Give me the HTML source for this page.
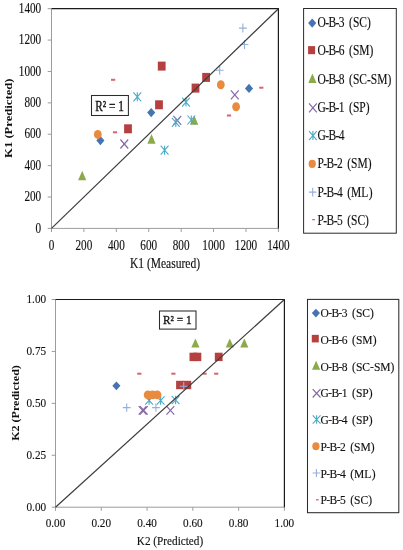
<!DOCTYPE html>
<html lang="en">
<head>
<meta charset="utf-8">
<title>K1 and K2 measured vs predicted</title>
<style>
html,body{margin:0;padding:0;background:#fff;}
body{width:403px;height:550px;overflow:hidden;}
svg{display:block;font-family:'Liberation Serif', 'DejaVu Serif', serif;}
</style>
</head>
<body>
<svg width="403" height="550" viewBox="0 0 403 550">
<rect width="403" height="550" fill="#ffffff"/>
<path d="M51.5 8.7L51.5 228.4L278.4 228.4" stroke="#9c9c9c" stroke-width="1" fill="none"/>
<path d="M51.50 228.4L51.50 232.0" stroke="#9c9c9c" stroke-width="1"/>
<text transform="translate(51.50,249.80) scale(0.935,1.14)" text-anchor="middle" font-size="12" font-weight="normal" fill="#111" stroke="#111" stroke-width="0.12">0</text>
<path d="M83.91 228.4L83.91 232.0" stroke="#9c9c9c" stroke-width="1"/>
<text transform="translate(83.91,249.80) scale(0.935,1.14)" text-anchor="middle" font-size="12" font-weight="normal" fill="#111" stroke="#111" stroke-width="0.12">200</text>
<path d="M116.33 228.4L116.33 232.0" stroke="#9c9c9c" stroke-width="1"/>
<text transform="translate(116.33,249.80) scale(0.935,1.14)" text-anchor="middle" font-size="12" font-weight="normal" fill="#111" stroke="#111" stroke-width="0.12">400</text>
<path d="M148.74 228.4L148.74 232.0" stroke="#9c9c9c" stroke-width="1"/>
<text transform="translate(148.74,249.80) scale(0.935,1.14)" text-anchor="middle" font-size="12" font-weight="normal" fill="#111" stroke="#111" stroke-width="0.12">600</text>
<path d="M181.16 228.4L181.16 232.0" stroke="#9c9c9c" stroke-width="1"/>
<text transform="translate(181.16,249.80) scale(0.935,1.14)" text-anchor="middle" font-size="12" font-weight="normal" fill="#111" stroke="#111" stroke-width="0.12">800</text>
<path d="M213.57 228.4L213.57 232.0" stroke="#9c9c9c" stroke-width="1"/>
<text transform="translate(213.57,249.80) scale(0.935,1.14)" text-anchor="middle" font-size="12" font-weight="normal" fill="#111" stroke="#111" stroke-width="0.12">1000</text>
<path d="M245.99 228.4L245.99 232.0" stroke="#9c9c9c" stroke-width="1"/>
<text transform="translate(245.99,249.80) scale(0.935,1.14)" text-anchor="middle" font-size="12" font-weight="normal" fill="#111" stroke="#111" stroke-width="0.12">1200</text>
<path d="M278.40 228.4L278.40 232.0" stroke="#9c9c9c" stroke-width="1"/>
<text transform="translate(278.40,249.80) scale(0.935,1.14)" text-anchor="middle" font-size="12" font-weight="normal" fill="#111" stroke="#111" stroke-width="0.12">1400</text>
<path d="M47.70 228.40L51.5 228.40" stroke="#9c9c9c" stroke-width="1"/>
<text transform="translate(41.20,232.60) scale(0.935,1.14)" text-anchor="end" font-size="12" font-weight="normal" fill="#111" stroke="#111" stroke-width="0.12">0</text>
<path d="M47.70 197.01L51.5 197.01" stroke="#9c9c9c" stroke-width="1"/>
<text transform="translate(41.20,201.21) scale(0.935,1.14)" text-anchor="end" font-size="12" font-weight="normal" fill="#111" stroke="#111" stroke-width="0.12">200</text>
<path d="M47.70 165.63L51.5 165.63" stroke="#9c9c9c" stroke-width="1"/>
<text transform="translate(41.20,169.83) scale(0.935,1.14)" text-anchor="end" font-size="12" font-weight="normal" fill="#111" stroke="#111" stroke-width="0.12">400</text>
<path d="M47.70 134.24L51.5 134.24" stroke="#9c9c9c" stroke-width="1"/>
<text transform="translate(41.20,138.44) scale(0.935,1.14)" text-anchor="end" font-size="12" font-weight="normal" fill="#111" stroke="#111" stroke-width="0.12">600</text>
<path d="M47.70 102.86L51.5 102.86" stroke="#9c9c9c" stroke-width="1"/>
<text transform="translate(41.20,107.06) scale(0.935,1.14)" text-anchor="end" font-size="12" font-weight="normal" fill="#111" stroke="#111" stroke-width="0.12">800</text>
<path d="M47.70 71.47L51.5 71.47" stroke="#9c9c9c" stroke-width="1"/>
<text transform="translate(41.20,75.67) scale(0.935,1.14)" text-anchor="end" font-size="12" font-weight="normal" fill="#111" stroke="#111" stroke-width="0.12">1000</text>
<path d="M47.70 40.09L51.5 40.09" stroke="#9c9c9c" stroke-width="1"/>
<text transform="translate(41.20,44.29) scale(0.935,1.14)" text-anchor="end" font-size="12" font-weight="normal" fill="#111" stroke="#111" stroke-width="0.12">1200</text>
<path d="M47.70 8.70L51.5 8.70" stroke="#9c9c9c" stroke-width="1"/>
<text transform="translate(41.20,12.90) scale(0.935,1.14)" text-anchor="end" font-size="12" font-weight="normal" fill="#111" stroke="#111" stroke-width="0.12">1400</text>
<path d="M51.5 8.7L278.4 8.7L278.4 228.4" stroke="#1a1a1a" stroke-width="1.2" fill="none"/>
<text transform="translate(165.00,268.20) scale(0.96,1.14)" text-anchor="middle" font-size="12" font-weight="normal" fill="#111" stroke="#111" stroke-width="0.12">K1 (Measured)</text>
<text transform="translate(12.30,118.20) scale(0.92,1.054) rotate(-90)" text-anchor="middle" font-size="12" font-weight="bold" fill="#111" stroke="#111" stroke-width="0">K1 (Predicted)</text>
<rect x="91.5" y="95.5" width="36.9" height="20.0" fill="#fff" stroke="#2b2b2b" stroke-width="1.05"/>
<text transform="translate(109.60,110.90) scale(0.945,1.14)" text-anchor="middle" font-size="12" font-weight="normal" fill="#111" stroke="#111" stroke-width="0.3">R² = 1</text>
<path d="M100.40 135.88L104.46 140.60L100.40 145.32L96.34 140.60Z" fill="#4573B3"/>
<path d="M151.20 107.88L155.26 112.60L151.20 117.32L147.14 112.60Z" fill="#4573B3"/>
<path d="M249.00 83.68L253.06 88.40L249.00 93.12L244.94 88.40Z" fill="#4573B3"/>
<rect x="157.80" y="61.60" width="7.80" height="9.00" fill="#B5403F"/>
<rect x="155.10" y="100.30" width="7.80" height="9.00" fill="#B5403F"/>
<rect x="124.10" y="124.30" width="7.80" height="9.00" fill="#B5403F"/>
<rect x="202.20" y="72.90" width="7.80" height="9.00" fill="#B5403F"/>
<rect x="191.60" y="83.60" width="7.80" height="9.00" fill="#B5403F"/>
<path d="M82.20 170.70L86.30 180.30L78.10 180.30Z" fill="#8DAA4B"/>
<path d="M151.50 134.10L155.60 143.70L147.40 143.70Z" fill="#8DAA4B"/>
<path d="M194.20 115.20L198.30 124.80L190.10 124.80Z" fill="#8DAA4B"/>
<path d="M120.40 139.50L128.20 148.50M128.20 139.50L120.40 148.50" stroke="#8568A8" stroke-width="1.2" fill="none"/>
<path d="M173.40 115.80L181.20 124.80M181.20 115.80L173.40 124.80" stroke="#8568A8" stroke-width="1.2" fill="none"/>
<path d="M230.90 90.30L238.70 99.30M238.70 90.30L230.90 99.30" stroke="#8568A8" stroke-width="1.2" fill="none"/>
<path d="M133.40 92.30L141.20 101.30M141.20 92.30L133.40 101.30M137.30 92.30L137.30 101.30" stroke="#4BAAC5" stroke-width="1.1" fill="none"/>
<path d="M160.70 145.70L168.50 154.70M168.50 145.70L160.70 154.70M164.60 145.70L164.60 154.70" stroke="#4BAAC5" stroke-width="1.1" fill="none"/>
<path d="M182.10 97.60L189.90 106.60M189.90 97.60L182.10 106.60M186.00 97.60L186.00 106.60" stroke="#4BAAC5" stroke-width="1.1" fill="none"/>
<path d="M171.90 117.90L179.70 126.90M179.70 117.90L171.90 126.90M175.80 117.90L175.80 126.90" stroke="#4BAAC5" stroke-width="1.1" fill="none"/>
<path d="M187.40 115.50L195.20 124.50M195.20 115.50L187.40 124.50M191.30 115.50L191.30 124.50" stroke="#4BAAC5" stroke-width="1.1" fill="none"/>
<ellipse cx="97.80" cy="134.40" rx="3.90" ry="4.50" fill="#E88B3E"/>
<ellipse cx="220.80" cy="84.80" rx="3.90" ry="4.50" fill="#E88B3E"/>
<ellipse cx="236.10" cy="106.80" rx="3.90" ry="4.50" fill="#E88B3E"/>
<path d="M239.00 28.10L246.80 28.10M242.90 23.60L242.90 32.60" stroke="#94B0DB" stroke-width="1.1" fill="none"/>
<path d="M240.60 44.50L248.40 44.50M244.50 40.00L244.50 49.00" stroke="#94B0DB" stroke-width="1.1" fill="none"/>
<path d="M215.80 70.20L223.60 70.20M219.70 65.70L219.70 74.70" stroke="#94B0DB" stroke-width="1.1" fill="none"/>
<rect x="111.00" y="78.80" width="4.20" height="2.00" fill="#D8646E"/>
<rect x="112.90" y="131.30" width="4.20" height="2.00" fill="#D8646E"/>
<rect x="259.20" y="86.70" width="4.20" height="2.00" fill="#D8646E"/>
<rect x="226.90" y="114.50" width="4.20" height="2.00" fill="#D8646E"/>
<path d="M51.5 228.4L278.4 8.7" stroke="#3c3c3c" stroke-width="1.2" fill="none"/>
<rect x="303.6" y="8.5" width="92.7" height="224.7" fill="#fff" stroke="#2b2b2b" stroke-width="1.0"/>
<path d="M312.20 18.38L316.26 23.10L312.20 27.83L308.14 23.10Z" fill="#4573B3"/>
<text transform="translate(317.50,27.20) scale(0.96,1.14)" text-anchor="start" font-size="12" font-weight="normal" fill="#111" stroke="#111" stroke-width="0.12"><tspan letter-spacing="-0.6">O-B-3</tspan><tspan dx="2.3"> (SC)</tspan></text>
<rect x="308.09" y="46.10" width="7.02" height="8.10" fill="#B5403F"/>
<text transform="translate(317.50,55.45) scale(0.96,1.14)" text-anchor="start" font-size="12" font-weight="normal" fill="#111" stroke="#111" stroke-width="0.12"><tspan letter-spacing="-0.6">O-B-6</tspan><tspan dx="2.3"> (SM)</tspan></text>
<path d="M312.40 73.45L316.50 83.05L308.30 83.05Z" fill="#8DAA4B"/>
<text transform="translate(317.50,83.70) scale(0.96,1.14)" text-anchor="start" font-size="12" font-weight="normal" fill="#111" stroke="#111" stroke-width="0.12"><tspan letter-spacing="-0.6">O-B-8</tspan><tspan dx="2.3"> (SC-SM)</tspan></text>
<path d="M309.00 103.35L316.80 112.35M316.80 103.35L309.00 112.35" stroke="#8568A8" stroke-width="1.2" fill="none"/>
<text transform="translate(317.50,111.95) scale(0.96,1.14)" text-anchor="start" font-size="12" font-weight="normal" fill="#111" stroke="#111" stroke-width="0.12"><tspan letter-spacing="-0.6">G-B-1</tspan><tspan dx="2.3"> (SP)</tspan></text>
<path d="M309.00 131.10L316.80 140.10M316.80 131.10L309.00 140.10M312.90 131.10L312.90 140.10" stroke="#4BAAC5" stroke-width="1.1" fill="none"/>
<text transform="translate(317.50,140.20) scale(0.96,1.14)" text-anchor="start" font-size="12" font-weight="normal" fill="#111" stroke="#111" stroke-width="0.12"><tspan letter-spacing="-0.6">G-B-4</tspan></text>
<ellipse cx="312.20" cy="163.85" rx="3.63" ry="4.19" fill="#E88B3E"/>
<text transform="translate(317.50,168.45) scale(0.96,1.14)" text-anchor="start" font-size="12" font-weight="normal" fill="#111" stroke="#111" stroke-width="0.12"><tspan letter-spacing="-0.6">P-B-2</tspan><tspan dx="2.3"> (SM)</tspan></text>
<path d="M308.92 192.10L316.48 192.10M312.70 187.73L312.70 196.47" stroke="#94B0DB" stroke-width="1.1" fill="none"/>
<text transform="translate(317.50,196.70) scale(0.96,1.14)" text-anchor="start" font-size="12" font-weight="normal" fill="#111" stroke="#111" stroke-width="0.12"><tspan letter-spacing="-0.6">P-B-4</tspan><tspan dx="2.3"> (ML<tspan dx="0.5">)</tspan></tspan></text>
<rect x="312.23" y="219.00" width="2.73" height="1.30" fill="#D8646E"/>
<text transform="translate(317.50,224.95) scale(0.96,1.14)" text-anchor="start" font-size="12" font-weight="normal" fill="#111" stroke="#111" stroke-width="0.12"><tspan letter-spacing="-0.6">P-B-5</tspan><tspan dx="2.3"> (SC)</tspan></text>
<path d="M55.5 299.5L55.5 507.2L284.4 507.2" stroke="#9c9c9c" stroke-width="1" fill="none"/>
<path d="M55.50 507.2L55.50 510.8" stroke="#9c9c9c" stroke-width="1"/>
<text transform="translate(55.50,527.20) scale(0.935,1.09)" text-anchor="middle" font-size="12" font-weight="normal" fill="#111" stroke="#111" stroke-width="0.12">0.00</text>
<path d="M101.28 507.2L101.28 510.8" stroke="#9c9c9c" stroke-width="1"/>
<text transform="translate(101.28,527.20) scale(0.935,1.09)" text-anchor="middle" font-size="12" font-weight="normal" fill="#111" stroke="#111" stroke-width="0.12">0.20</text>
<path d="M147.06 507.2L147.06 510.8" stroke="#9c9c9c" stroke-width="1"/>
<text transform="translate(147.06,527.20) scale(0.935,1.09)" text-anchor="middle" font-size="12" font-weight="normal" fill="#111" stroke="#111" stroke-width="0.12">0.40</text>
<path d="M192.84 507.2L192.84 510.8" stroke="#9c9c9c" stroke-width="1"/>
<text transform="translate(192.84,527.20) scale(0.935,1.09)" text-anchor="middle" font-size="12" font-weight="normal" fill="#111" stroke="#111" stroke-width="0.12">0.60</text>
<path d="M238.62 507.2L238.62 510.8" stroke="#9c9c9c" stroke-width="1"/>
<text transform="translate(238.62,527.20) scale(0.935,1.09)" text-anchor="middle" font-size="12" font-weight="normal" fill="#111" stroke="#111" stroke-width="0.12">0.80</text>
<path d="M284.40 507.2L284.40 510.8" stroke="#9c9c9c" stroke-width="1"/>
<text transform="translate(284.40,527.20) scale(0.935,1.09)" text-anchor="middle" font-size="12" font-weight="normal" fill="#111" stroke="#111" stroke-width="0.12">1.00</text>
<path d="M51.70 507.20L55.5 507.20" stroke="#9c9c9c" stroke-width="1"/>
<text transform="translate(46.10,510.90) scale(0.935,1.09)" text-anchor="end" font-size="12" font-weight="normal" fill="#111" stroke="#111" stroke-width="0.12">0.00</text>
<path d="M51.70 455.27L55.5 455.27" stroke="#9c9c9c" stroke-width="1"/>
<text transform="translate(46.10,458.97) scale(0.935,1.09)" text-anchor="end" font-size="12" font-weight="normal" fill="#111" stroke="#111" stroke-width="0.12">0.25</text>
<path d="M51.70 403.35L55.5 403.35" stroke="#9c9c9c" stroke-width="1"/>
<text transform="translate(46.10,407.05) scale(0.935,1.09)" text-anchor="end" font-size="12" font-weight="normal" fill="#111" stroke="#111" stroke-width="0.12">0.50</text>
<path d="M51.70 351.43L55.5 351.43" stroke="#9c9c9c" stroke-width="1"/>
<text transform="translate(46.10,355.12) scale(0.935,1.09)" text-anchor="end" font-size="12" font-weight="normal" fill="#111" stroke="#111" stroke-width="0.12">0.75</text>
<path d="M51.70 299.50L55.5 299.50" stroke="#9c9c9c" stroke-width="1"/>
<text transform="translate(46.10,303.20) scale(0.935,1.09)" text-anchor="end" font-size="12" font-weight="normal" fill="#111" stroke="#111" stroke-width="0.12">1.00</text>
<path d="M55.5 299.5L284.4 299.5L284.4 507.2" stroke="#1a1a1a" stroke-width="1.2" fill="none"/>
<text transform="translate(170.00,545.40) scale(0.935,1.09)" text-anchor="middle" font-size="12" font-weight="normal" fill="#111" stroke="#111" stroke-width="0.12">K2 (Predicted)</text>
<text transform="translate(19.30,403.00) scale(0.92,1.005) rotate(-90)" text-anchor="middle" font-size="12" font-weight="bold" fill="#111" stroke="#111" stroke-width="0">K2 (Predicted)</text>
<rect x="159.5" y="311.0" width="36.5" height="18.1" fill="#fff" stroke="#2b2b2b" stroke-width="1.05"/>
<text transform="translate(177.40,324.30) scale(0.945,1.09)" text-anchor="middle" font-size="12" font-weight="normal" fill="#111" stroke="#111" stroke-width="0.3">R² = 1</text>
<path d="M116.40 381.39L120.46 385.80L116.40 390.21L112.34 385.80Z" fill="#4573B3"/>
<rect x="189.50" y="352.70" width="7.80" height="8.40" fill="#B5403F"/>
<rect x="193.50" y="352.70" width="7.80" height="8.40" fill="#B5403F"/>
<rect x="214.80" y="352.70" width="7.80" height="8.40" fill="#B5403F"/>
<rect x="176.10" y="380.80" width="7.80" height="8.40" fill="#B5403F"/>
<rect x="183.40" y="380.80" width="7.80" height="8.40" fill="#B5403F"/>
<path d="M195.40 338.40L199.50 347.40L191.30 347.40Z" fill="#8DAA4B"/>
<path d="M229.80 338.40L233.90 347.40L225.70 347.40Z" fill="#8DAA4B"/>
<path d="M244.30 338.40L248.40 347.40L240.20 347.40Z" fill="#8DAA4B"/>
<path d="M138.70 406.20L146.50 414.60M146.50 406.20L138.70 414.60" stroke="#8568A8" stroke-width="1.2" fill="none"/>
<path d="M139.90 406.20L147.70 414.60M147.70 406.20L139.90 414.60" stroke="#8568A8" stroke-width="1.2" fill="none"/>
<path d="M166.50 406.20L174.30 414.60M174.30 406.20L166.50 414.60" stroke="#8568A8" stroke-width="1.2" fill="none"/>
<path d="M145.20 396.30L153.00 404.70M153.00 396.30L145.20 404.70M149.10 396.30L149.10 404.70" stroke="#4BAAC5" stroke-width="1.1" fill="none"/>
<path d="M156.70 396.30L164.50 404.70M164.50 396.30L156.70 404.70M160.60 396.30L160.60 404.70" stroke="#4BAAC5" stroke-width="1.1" fill="none"/>
<path d="M171.70 395.80L179.50 404.20M179.50 395.80L171.70 404.20M175.60 395.80L175.60 404.20" stroke="#4BAAC5" stroke-width="1.1" fill="none"/>
<ellipse cx="147.90" cy="394.90" rx="4.13" ry="4.45" fill="#E88B3E"/>
<ellipse cx="152.60" cy="394.90" rx="4.13" ry="4.45" fill="#E88B3E"/>
<ellipse cx="157.30" cy="394.90" rx="4.13" ry="4.45" fill="#E88B3E"/>
<path d="M122.80 407.60L130.60 407.60M126.70 403.40L126.70 411.80" stroke="#94B0DB" stroke-width="1.1" fill="none"/>
<path d="M152.00 407.60L159.80 407.60M155.90 403.40L155.90 411.80" stroke="#94B0DB" stroke-width="1.1" fill="none"/>
<path d="M179.80 386.20L187.60 386.20M183.70 382.00L183.70 390.40" stroke="#94B0DB" stroke-width="1.1" fill="none"/>
<rect x="137.20" y="372.70" width="4.20" height="2.00" fill="#D8646E"/>
<rect x="171.30" y="372.70" width="4.20" height="2.00" fill="#D8646E"/>
<rect x="202.50" y="372.70" width="4.20" height="2.00" fill="#D8646E"/>
<rect x="214.10" y="372.70" width="4.20" height="2.00" fill="#D8646E"/>
<path d="M55.5 507.2L284.4 299.5" stroke="#3c3c3c" stroke-width="1.2" fill="none"/>
<rect x="307.5" y="299.4" width="91.3" height="213.3" fill="#fff" stroke="#2b2b2b" stroke-width="1.05"/>
<path d="M315.90 308.69L319.96 313.10L315.90 317.51L311.84 313.10Z" fill="#4573B3"/>
<text transform="translate(320.40,317.20) scale(0.963,1.09)" text-anchor="start" font-size="12" font-weight="normal" fill="#111" stroke="#111" stroke-width="0.12"><tspan letter-spacing="-0.6">O-B-3</tspan><tspan dx="2.3"> (SC)</tspan></text>
<rect x="311.79" y="334.85" width="7.02" height="7.56" fill="#B5403F"/>
<text transform="translate(320.40,343.93) scale(0.963,1.09)" text-anchor="start" font-size="12" font-weight="normal" fill="#111" stroke="#111" stroke-width="0.12"><tspan letter-spacing="-0.6">O-B-6</tspan><tspan dx="2.3"> (SM)</tspan></text>
<path d="M316.10 360.71L320.20 369.71L312.00 369.71Z" fill="#8DAA4B"/>
<text transform="translate(320.40,370.66) scale(0.963,1.09)" text-anchor="start" font-size="12" font-weight="normal" fill="#111" stroke="#111" stroke-width="0.12"><tspan letter-spacing="-0.6">O-B-8</tspan><tspan dx="2.3"> (SC-SM)</tspan></text>
<path d="M312.70 389.09L320.50 397.49M320.50 389.09L312.70 397.49" stroke="#8568A8" stroke-width="1.2" fill="none"/>
<text transform="translate(320.40,397.39) scale(0.963,1.09)" text-anchor="start" font-size="12" font-weight="normal" fill="#111" stroke="#111" stroke-width="0.12"><tspan letter-spacing="-0.6">G-B-1</tspan><tspan dx="2.3"> (SP)</tspan></text>
<path d="M312.70 415.32L320.50 423.72M320.50 415.32L312.70 423.72M316.60 415.32L316.60 423.72" stroke="#4BAAC5" stroke-width="1.1" fill="none"/>
<text transform="translate(320.40,424.12) scale(0.963,1.09)" text-anchor="start" font-size="12" font-weight="normal" fill="#111" stroke="#111" stroke-width="0.12"><tspan letter-spacing="-0.6">G-B-4</tspan><tspan dx="2.3"> (SP)</tspan></text>
<ellipse cx="315.90" cy="446.25" rx="3.63" ry="3.91" fill="#E88B3E"/>
<text transform="translate(320.40,450.85) scale(0.963,1.09)" text-anchor="start" font-size="12" font-weight="normal" fill="#111" stroke="#111" stroke-width="0.12"><tspan letter-spacing="-0.6">P-B-2</tspan><tspan dx="2.3"> (SM)</tspan></text>
<path d="M312.62 472.98L320.18 472.98M316.40 468.91L316.40 477.05" stroke="#94B0DB" stroke-width="1.1" fill="none"/>
<text transform="translate(320.40,477.58) scale(0.963,1.09)" text-anchor="start" font-size="12" font-weight="normal" fill="#111" stroke="#111" stroke-width="0.12"><tspan letter-spacing="-0.6">P-B-4</tspan><tspan dx="2.3"> (ML<tspan dx="0.5">)</tspan></tspan></text>
<rect x="315.93" y="499.16" width="2.73" height="1.30" fill="#D8646E"/>
<text transform="translate(320.40,504.31) scale(0.963,1.09)" text-anchor="start" font-size="12" font-weight="normal" fill="#111" stroke="#111" stroke-width="0.12"><tspan letter-spacing="-0.6">P-B-5</tspan><tspan dx="2.3"> (SC)</tspan></text>
</svg>
</body>
</html>
